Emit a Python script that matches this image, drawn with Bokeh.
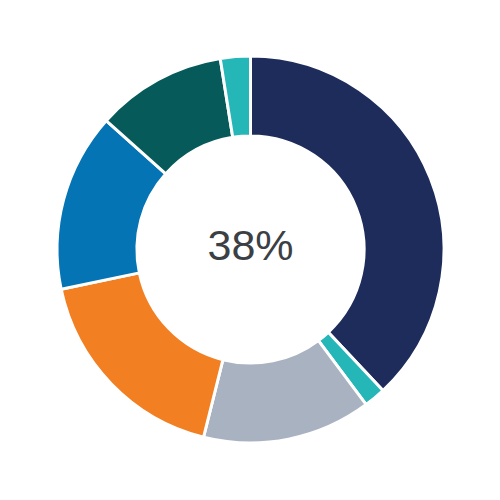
import math
from bokeh.plotting import figure
from bokeh.models import Range1d, ColumnDataSource
from bokeh.core.properties import value
from bokeh.embed import file_html
from bokeh.resources import INLINE

segments = ["A", "B", "C", "D", "E", "F", "G"]
shares = [38.0, 1.8, 14.1, 17.8, 14.9, 10.9, 2.5]
colors = ["#1e2c5b", "#25b6b8", "#a8b2c1", "#f27f22", "#0574b5", "#065a5a", "#25b6b8"]
center_label = "38%"

total = sum(shares)
starts, ends = [], []
acc = 0.0
for s in shares:
    starts.append(math.pi / 2 - acc / total * 2 * math.pi)
    acc += s
    ends.append(math.pi / 2 - acc / total * 2 * math.pi)

src = ColumnDataSource(dict(seg=segments, share=shares, color=colors, start=starts, end=ends))

W = H = 484
scale = 192.5
cx, cy = 250, 249
p = figure(width=W, height=H, output_backend="svg", toolbar_location=None,
           x_range=Range1d(-cx / scale, (W - cx) / scale),
           y_range=Range1d(-(H - cy) / scale, cy / scale),
           x_axis_type=None, y_axis_type=None, min_border=0)
p.outline_line_color = None
p.grid.visible = False
p.background_fill_color = "white"

p.annular_wedge(x=0, y=0, inner_radius=0.59, outer_radius=1.005,
                start_angle="start", end_angle="end", direction="clock",
                fill_color="color", line_color="white", line_width=3, source=src)

p.text(x=[0], y=[0.025], text=[center_label], text_align="center", text_baseline="middle",
       text_font=value("Liberation Sans"), text_font_size="43px", text_color="#3b4045")

open("out.html", "w").write(file_html(p, INLINE))
